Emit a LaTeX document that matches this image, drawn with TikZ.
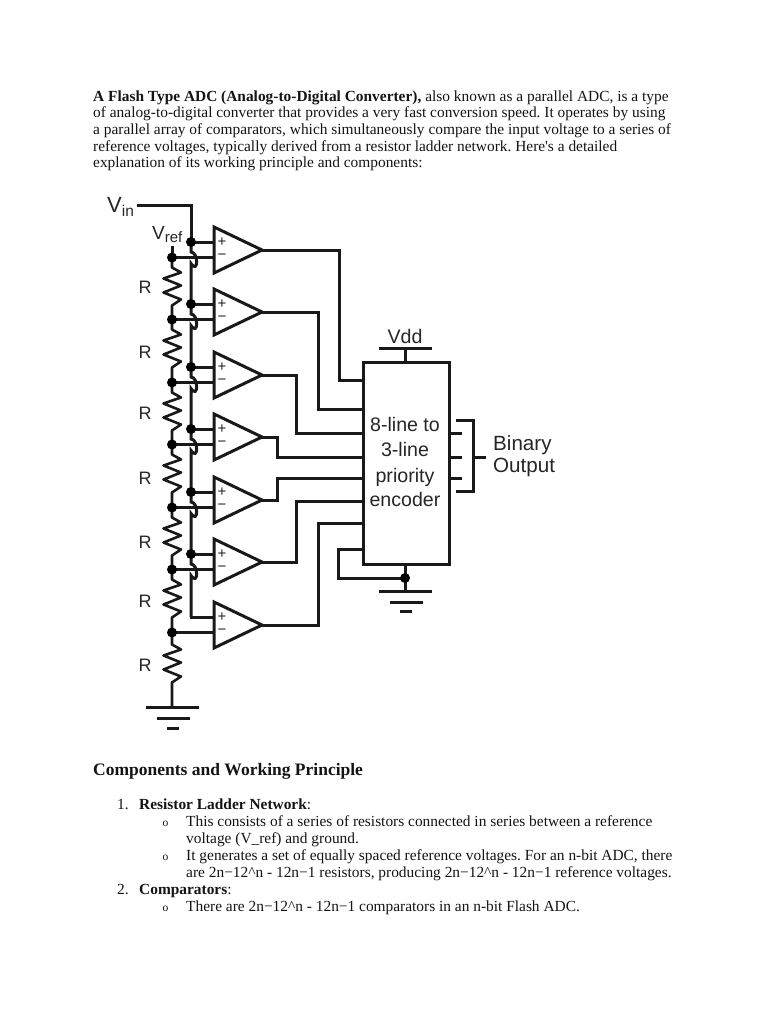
\documentclass[tikz,border=0pt]{standalone}
\usepackage{fontspec}
\setmainfont{Liberation Serif}
\newfontfamily\dsans{Liberation Sans}
\newfontfamily\plainserif{Liberation Serif}
\tikzset{
  wire/.style={line width=3pt,line cap=rect,line join=miter,draw=black!90},
  thin wire/.style={line width=2.6pt,draw=black!90},
  junction/.style={circle,fill=black,inner sep=0pt,minimum size=10pt},
  para/.style={anchor=base west,inner sep=0pt,font=\frenchspacing\fontsize{15.4}{17}\selectfont,text=black!92},
  lab/.style={inner sep=0pt,font=\dsans\fontsize{19.6}{22}\selectfont,text=black!85},
  sign/.style={inner sep=0pt,font=\dsans\fontsize{15}{15}\selectfont,text=black!85},
  enc/.style={draw=black!90,line width=3pt,fill=white,inner sep=0pt}
}
\begin{document}
\begin{tikzpicture}[x=1pt,y=-1pt]
\useasboundingbox[fill=white] (0,0) rectangle (768,1024);
% top text
\node[para] (t1) at (93,101.5) {\textbf{A Flash Type ADC (Analog-to-Digital Converter),} also known as a parallel ADC, is a type};
\node[para] (t2) at (93,118) {of analog-to-digital converter that provides a very fast conversion speed. It operates by using};
\node[para] (t3) at (93,135) {a parallel array of comparators, which simultaneously compare the input voltage to a series of};
\node[para] (t4) at (93,152) {reference voltages, typically derived from a resistor ladder network. Here{\plainserif\symbol{39}}s a detailed};
\node[para] (t5) at (93,168) {explanation of its working principle and components:};
% bottom text
\node[para,font=\bfseries\fontsize{17.5}{19}\selectfont] (h1) at (93,775) {Components and Working Principle};
\node[para] (l1n) at (117,809) {1.};
\node[para] (l1) at (139,809) {\textbf{Resistor Ladder Network}:};
\node[para] (b1) at (162.5,826) {\fontsize{11.5}{11.5}\selectfont o};
\node[para] (l2) at (186,826) {This consists of a series of resistors connected in series between a reference};
\node[para] (l3) at (186,843) {voltage (V\_ref) and ground.};
\node[para] (b2) at (162.5,860) {\fontsize{11.5}{11.5}\selectfont o};
\node[para] (l4) at (186,860) {It generates a set of equally spaced reference voltages. For an n-bit ADC, there};
\node[para] (l5) at (186,877) {are 2n−12\^{}n - 12n−1 resistors, producing 2n−12\^{}n - 12n−1 reference voltages.};
\node[para] (l6n) at (117,894) {2.};
\node[para] (l6) at (139,894) {\textbf{Comparators}:};
\node[para] (b3) at (162.5,911) {\fontsize{11.5}{11.5}\selectfont o};
\node[para] (l7) at (186,911) {There are 2n−12\^{}n - 12n−1 comparators in an n-bit Flash ADC.};
% pin coordinates
\foreach \i/\c in {1/250,2/312,3/375,4/437,5/500,6/562,7/625}{
  \coordinate (tip\i) at (262,\c);
  \coordinate (pin\i) at (214,\c-8);
  \coordinate (nin\i) at (214,\c+7.5);
  \coordinate (vp\i) at (191,\c-8);
  \coordinate (lad\i) at (172,\c+7.5);
}
% Vin rail
\coordinate (vinstart) at (138,206);
\coordinate (vincorner) at (191,206);
\draw[wire] (vinstart) -- (vincorner) -- (vp1);
\foreach \i/\j in {1/2,2/3,3/4,4/5,5/6,6/7}{
  \draw[wire,line cap=butt] (vp\i) -- ++(0,10) .. controls +(7.5,0) and +(7.5,11) .. ++(0,11.5) -- (vp\j);
}
\draw[wire] (vp7) -- (pin7);
\foreach \i in {1,...,6}{
  \draw[wire] (vp\i) -- (pin\i);
  \node[junction] (dv\i) at (vp\i) {};
}
% ladder
\coordinate (ladtop) at (172,247);
\draw[wire] (ladtop) -- (lad1);
\foreach \i/\j in {1/2,2/3,3/4,4/5,5/6,6/7}{
  \draw[thin wire,line join=round] (lad\i) -- ++(0,10) -- ++(9,5) -- ++(-17.5,6) -- ++(17.5,7) -- ++(-17.5,7) -- ++(17.5,7) -- ++(-9,6) -- (lad\j);
}
\coordinate (gnda) at (172,707);
\draw[thin wire,line join=round] (lad7) -- ++(0,12) -- ++(9,5) -- ++(-17.5,6) -- ++(17.5,7) -- ++(-17.5,7) -- ++(17.5,7) -- ++(-9,6) -- (gnda);
\draw[wire] (147,707) -- (197,707);
\draw[wire] (158,718) -- (188,718);
\draw[wire] (168,728) -- (177,728);
\foreach \i in {1,...,7}{
  \draw[wire] (lad\i) -- (nin\i);
  \node[junction] (dl\i) at (lad\i) {};
}
% comparators
\foreach \i/\c in {1/250,2/312,3/375,4/437,5/500,6/562,7/625}{
  \draw[wire,fill=white] (214,\c-23) -- (tip\i) -- (214,\c+23) -- cycle;
  \node[sign] (plus\i) at (222,\c-8) {+};
  \node[sign] (minus\i) at (222,\c+7) {−};
}
% encoder
\node[enc,minimum width=86pt,minimum height=202pt] (encoder) at (406,463) {};
\node[lab,anchor=base] (e1) at (405,431) {8-line to};
\node[lab,anchor=base] (e2) at (405,456) {3-line};
\node[lab,anchor=base] (e3) at (405,482) {priority};
\node[lab,anchor=base] (e4) at (405,506) {encoder};
% comparator outputs
\coordinate (i1) at (encoder.west |- 0,380);
\coordinate (i2) at (encoder.west |- 0,409);
\coordinate (i3) at (encoder.west |- 0,433);
\coordinate (i4) at (encoder.west |- 0,457);
\coordinate (i5) at (encoder.west |- 0,478);
\coordinate (i6) at (encoder.west |- 0,501);
\coordinate (i7) at (encoder.west |- 0,523);
\coordinate (i8) at (encoder.west |- 0,549);
\draw[wire] (tip1) -| (339,380) -- (i1);
\draw[wire] (tip2) -| (318,409) -- (i2);
\draw[wire] (tip3) -| (296,433) -- (i3);
\draw[wire] (tip4) -| (277,457) -- (i4);
\draw[wire] (tip5) -| (277,478) -- (i5);
\draw[wire] (tip6) -| (296,501) -- (i6);
\draw[wire] (tip7) -| (318,523) -- (i7);
% power
\coordinate (vddbar) at (405,348);
\coordinate (gndbar) at (405,591);
\coordinate (gndj) at (405,578);
\draw[wire] (encoder.north -| vddbar) -- (vddbar);
\draw[wire] (380,348) -- (430,348);
\draw[wire] (encoder.south -| gndbar) -- (gndbar);
\draw[wire] (i8) -- (338,549) -- (338,578) -- (gndj);
\node[junction] (dg) at (gndj) {};
\draw[wire] (380,591) -- (430,591);
\draw[wire] (391,602) -- (421,602);
\draw[wire] (401,611) -- (410,611);
\node[lab,anchor=base] (vdd) at (405,343) {Vdd};
% outputs
\foreach \y in {433,457,478}{
  \draw[wire] (encoder.east |- 0,\y) -- (460,\y);
}
\draw[wire] (457,420) -- (473,420) -- (473,491) -- (457,491);
\draw[wire] (473,457) -- (484,457);
\node[lab,font=\dsans\fontsize{20.6}{22}\selectfont,anchor=base west] (bin) at (493,450) {Binary};
\node[lab,font=\dsans\fontsize{20.6}{22}\selectfont,anchor=base west] (out) at (493,472) {Output};
% labels
\node[lab,font=\dsans\fontsize{22}{22}\selectfont,anchor=base west] (vin) at (107,213) {V\raisebox{-4pt}{\fontsize{15.5}{15.5}\selectfont in}};
\node[lab,font=\dsans\fontsize{19}{19}\selectfont,anchor=base west] (vref) at (152,240) {V\raisebox{-3pt}{\fontsize{15}{15}\selectfont ref}};
\foreach \n/\y in {1/287,2/352,3/413,4/478,5/542,6/601,7/665}{
  \node[lab,font=\dsans\fontsize{18}{18}\selectfont] (r\n) at (145,\y) {R};
}
\end{tikzpicture}
\end{document}
